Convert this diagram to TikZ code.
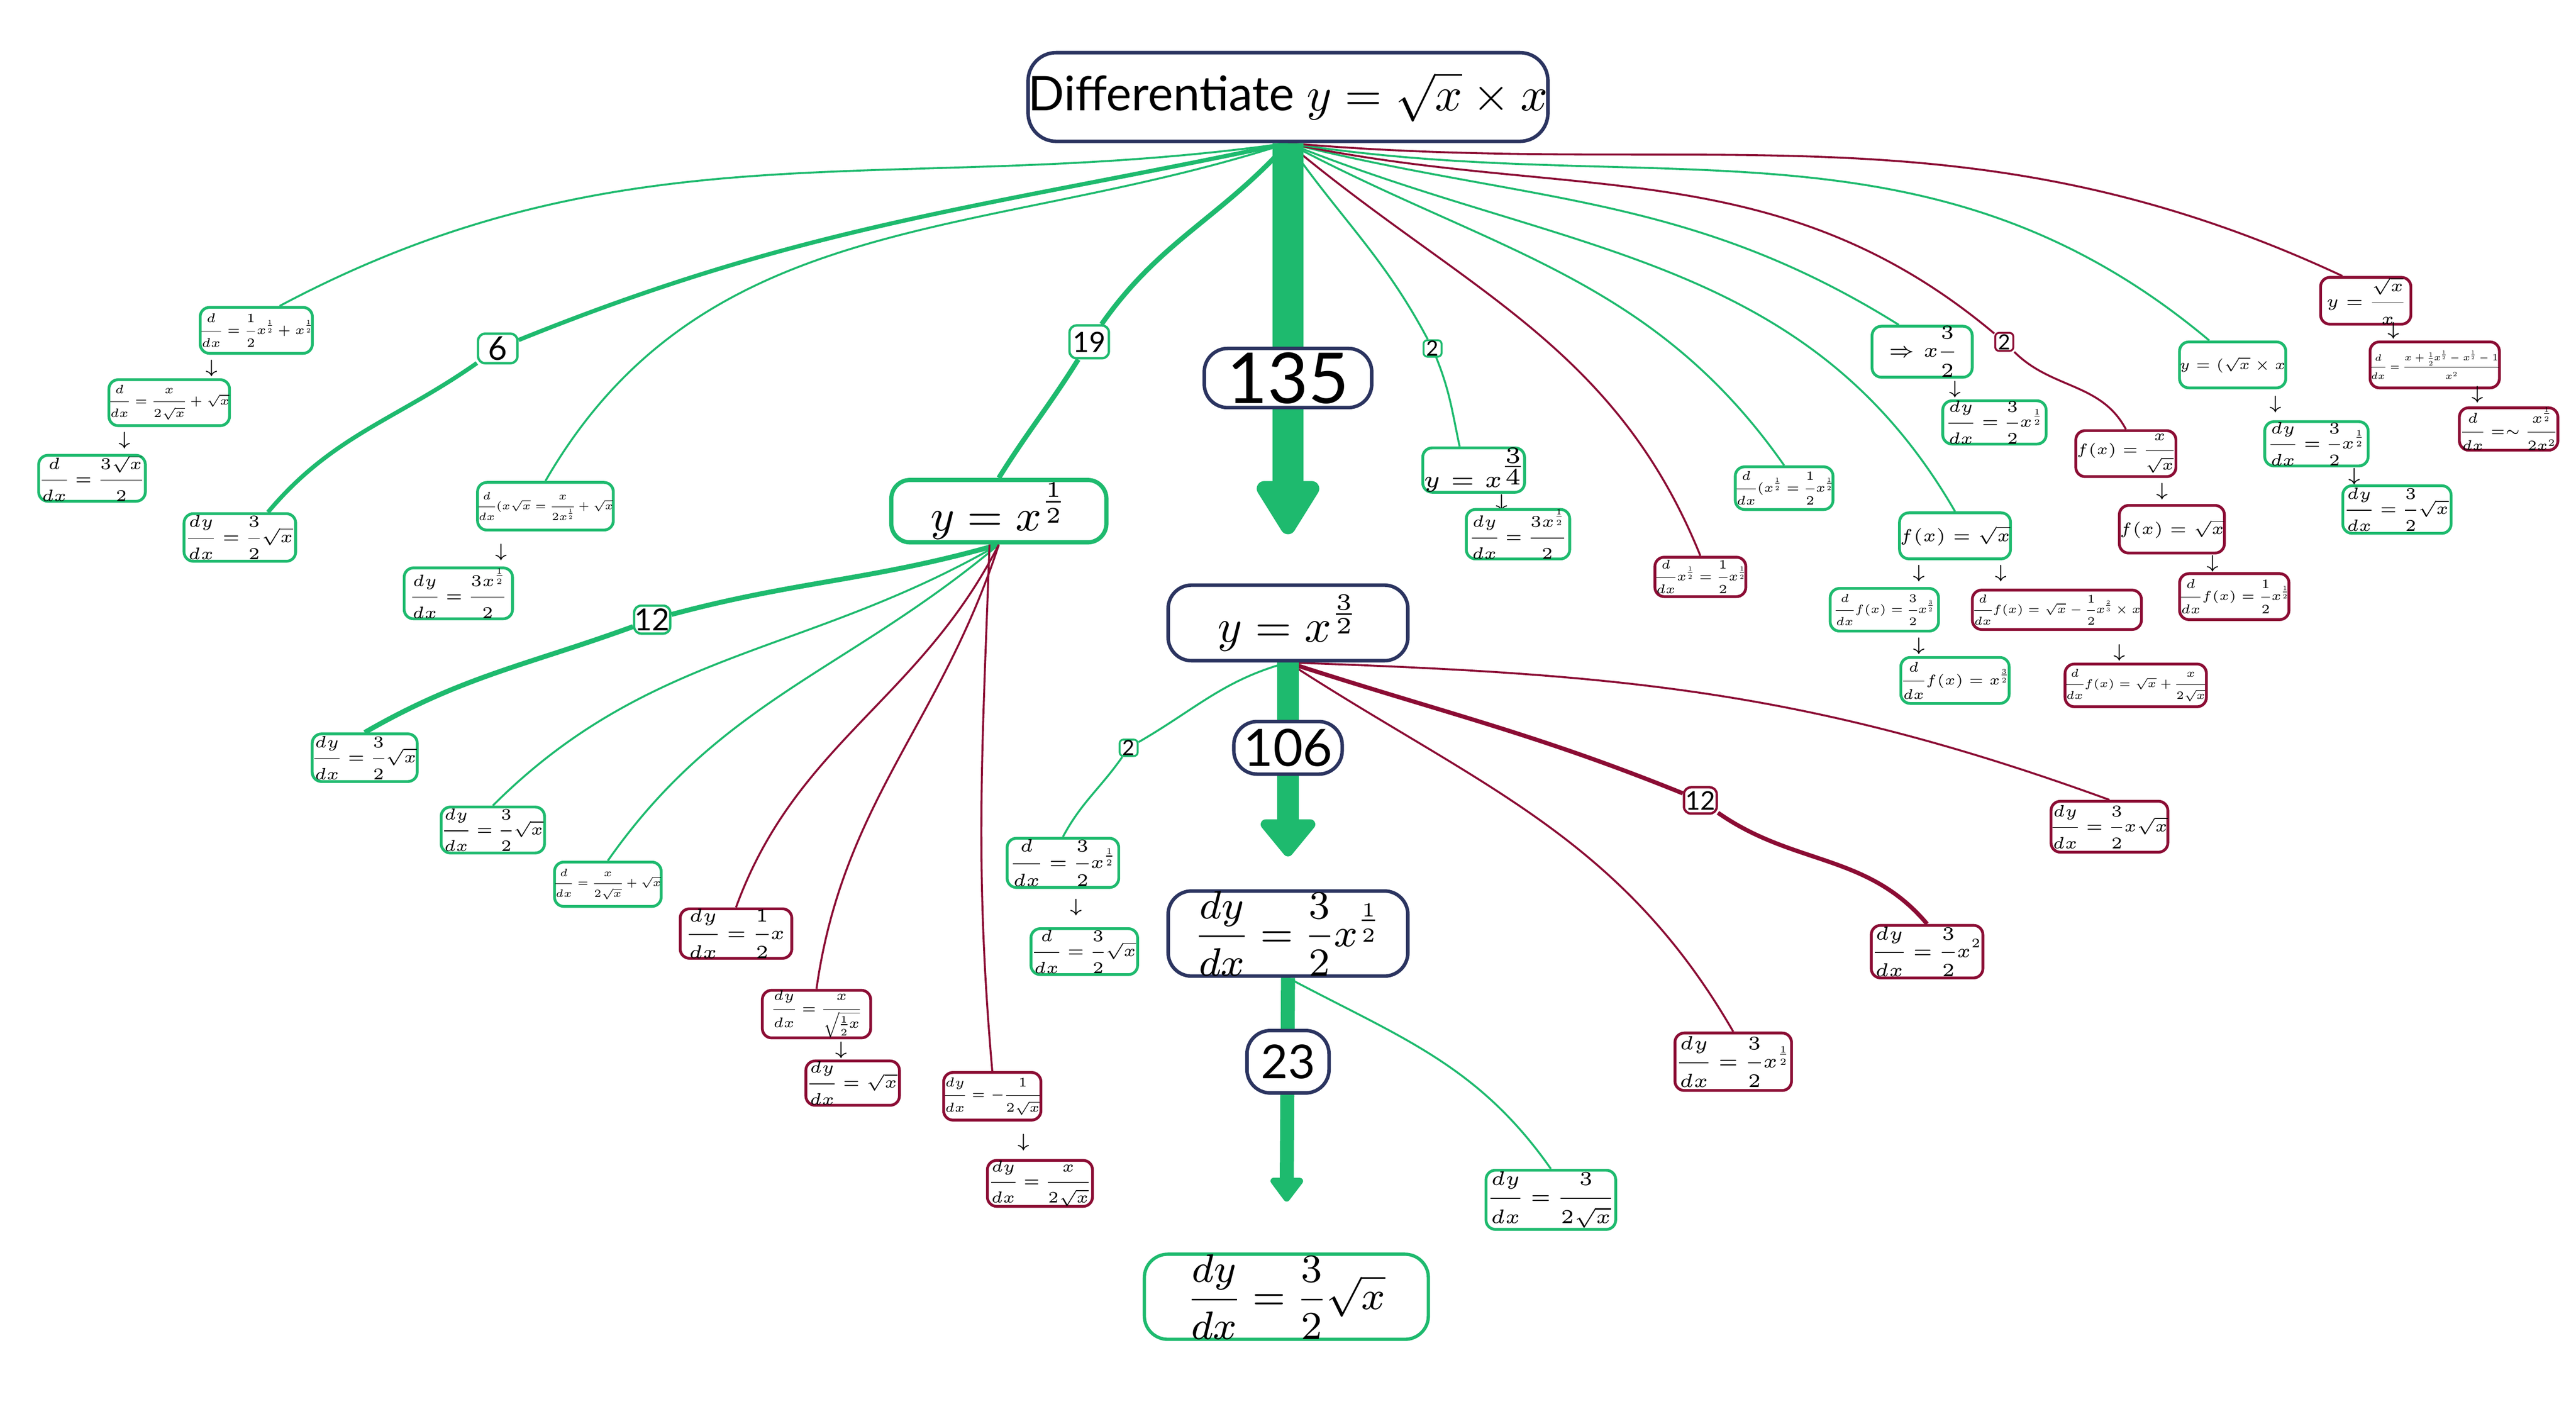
\RequirePackage{fix-cm}
\documentclass[tikz,border=0pt]{standalone}
\usepackage{amsmath}
\usepackage[no-math]{fontspec}
\setmainfont{Lato}
\usetikzlibrary{arrows.meta,backgrounds}
\definecolor{gr}{RGB}{30,186,110}
\definecolor{mr}{RGB}{139,12,52}
\definecolor{nv}{RGB}{43,52,96}
\newcommand\myfs[1]{\fontsize{#1}{#1}\selectfont\nulldelimiterspace=0.1em\relax\scriptspace=0.04em\relax}
\begin{document}
\begin{tikzpicture}[x=0.01234cm,y=0.01234cm,
  sz/.style 2 args={minimum width=#1*0.351pt,minimum height=#2*0.351pt},
  fs/.style={font=\myfs{#1}},
  bx/.style={draw,rounded corners=2pt,fill=white,line width=0.6pt,inner sep=0pt,align=center},
  g/.style={bx,draw=gr},
  r/.style={bx,draw=mr},
  n/.style={bx,draw=nv,line width=0.75pt,rounded corners=5pt},
  lb/.style={bx,rounded corners=1.5pt,line width=0.5pt},
  sl/.style={lb,rounded corners=0.8pt,line width=0.4pt,sz={11}{10},fs=4.5pt},
  dn/.style={inner sep=0pt,fs=4pt},
  eg/.style={draw=gr,line width=0.42pt},
  er/.style={draw=mr,line width=0.42pt},
  big/.style={draw=gr,line cap=butt}
]
\useasboundingbox (0,0) rectangle (1568,-854);
% main column
\node[n,sz={313}{54},fs=10.2pt,rounded corners=6pt] (root) at (784,-59) {Differentiate $y=\sqrt{x}\times x$};
\node[n,sz={102}{36},fs=15pt] (n135) at (784,-230) {135};
\node[n,sz={146}{46},fs=10pt] (m1) at (784,-379) {$\displaystyle y=x^{\frac{3}{2}}$};
\node[n,sz={66}{32},fs=11pt] (n106) at (784,-455) {106};
\node[n,sz={146}{47},fs=8.5pt] (m2) at (784,-568) {$\displaystyle \frac{dy}{dx}=\frac{3}{2}x^{\frac{1}{2}}$};
\node[n,sz={50}{38},fs=10pt] (n23) at (784,-646) {23};
\node[g,sz={173}{51},fs=8.5pt,line width=0.7pt,rounded corners=5pt] (fin) at (783,-789) {$\displaystyle \frac{dy}{dx}=\frac{3}{2}\sqrt{x}$};
\node[g,sz={131}{38},fs=9.5pt,line width=0.9pt,rounded corners=4pt] (half) at (608,-311) {$\displaystyle y=x^{\frac{1}{2}}$};
% labels
\node[lb,draw=gr,sz={24}{20},fs=6pt] (l19) at (663,-208) {19};
\node[lb,draw=gr,sz={24}{18},fs=7pt] (l6) at (303,-212) {6};
\node[lb,draw=gr,sz={22}{17},fs=6.5pt] (l12a) at (397,-377) {12};
\node[sl,draw=gr] (l2a) at (872,-212) {2};
\node[sl,draw=mr,sz={11}{11}] (l2b) at (1220,-208) {2};
\node[sl,draw=gr] (l2c) at (687,-455) {2};
\node[lb,draw=mr,sz={20}{16},fs=5.5pt] (l12b) at (1035,-487) {12};
% left group
\node[g,sz={66}{28},fs=2.7pt] (a1) at (156,-201) {$\displaystyle \frac{d}{dx}=\frac{1}{2}x^{\frac{1}{2}}+x^{\frac{1}{2}}$};
\node[dn] (da1) at (129,-224) {$\downarrow$};
\node[g,sz={67}{28},fs=2.6pt] (a2) at (103,-245) {$\displaystyle \frac{d}{dx}=\frac{x}{2\sqrt{x}}+\sqrt{x}$};
\node[dn] (da2) at (76,-268) {$\downarrow$};
\node[g,sz={65}{28},fs=3.5pt] (a3) at (56,-291) {$\displaystyle \frac{d}{dx}=\frac{3\sqrt{x}}{2}$};
\node[g,sz={68}{29},fs=3.6pt] (b) at (146,-327) {$\displaystyle \frac{dy}{dx}=\frac{3}{2}\sqrt{x}$};
\node[g,sz={77}{29},fs=2.3pt] (c1) at (332,-308) {$\displaystyle \frac{d}{dx}(x\sqrt{x}=\frac{x}{2x^{\frac{1}{2}}}+\sqrt{x}$};
\node[dn] (dc1) at (305,-336) {$\downarrow$};
\node[g,sz={66}{31},fs=3.5pt] (c2) at (279,-361) {$\displaystyle \frac{dy}{dx}=\frac{3x^{\frac{1}{2}}}{2}$};
% right of root
\node[g,sz={62}{27},fs=5pt] (d1) at (897,-286) {$\displaystyle y=x^{\frac{3}{4}}$};
\node[dn] (dd1) at (914,-306) {$\downarrow$};
\node[g,sz={63}{27},fs=3.5pt] (d2) at (924,-325) {$\displaystyle \frac{dy}{dx}=\frac{3x^{\frac{1}{2}}}{2}$};
\node[r,sz={54}{24},fs=2.7pt] (e) at (1035,-351) {$\displaystyle \frac{d}{dx}x^{\frac{1}{2}}=\frac{1}{2}x^{\frac{1}{2}}$};
\node[g,sz={59}{26},fs=2.7pt] (gg) at (1086,-297) {$\displaystyle \frac{d}{dx}(x^{\frac{1}{2}}=\frac{1}{2}x^{\frac{1}{2}}$};
\node[g,sz={65}{28},fs=3.7pt] (f) at (1190,-326) {$\displaystyle f(x)=\sqrt{x}$};
\node[dn] (df1) at (1168,-349) {$\downarrow$};
\node[dn] (df2) at (1218,-349) {$\downarrow$};
\node[g,sz={66}{26},fs=2.5pt] (f1) at (1147,-371) {$\displaystyle \frac{d}{dx}f(x)=\frac{3}{2}x^{\frac{3}{2}}$};
\node[dn] (df3) at (1168,-393) {$\downarrow$};
\node[g,sz={66}{28},fs=3pt] (f2) at (1190,-414) {$\displaystyle \frac{d}{dx}f(x)=x^{\frac{3}{2}}$};
\node[r,sz={103}{24},fs=2.45pt] (f3) at (1252,-371) {$\displaystyle \frac{d}{dx}f(x)=\sqrt{x}-\frac{1}{2}x^{\frac{2}{3}}\times x$};
\node[dn] (df4) at (1290,-397) {$\downarrow$};
\node[r,sz={86}{26},fs=2.4pt] (f4) at (1300,-417) {$\displaystyle \frac{d}{dx}f(x)=\sqrt{x}+\frac{x}{2\sqrt{x}}$};
\node[g,sz={61}{27},fs=4.2pt] (h1) at (1170,-214) {$\displaystyle \Rightarrow x\frac{3}{2}$};
\node[dn] (dh1) at (1190,-237) {$\downarrow$};
\node[g,sz={63}{26},fs=3.5pt] (h2) at (1214,-257) {$\displaystyle \frac{dy}{dx}=\frac{3}{2}x^{\frac{1}{2}}$};
\node[r,sz={61}{28},fs=3.2pt] (i1) at (1294,-276) {$\displaystyle f(x)=\frac{x}{\sqrt{x}}$};
\node[dn] (di1) at (1316,-299) {$\downarrow$};
\node[r,sz={64}{29},fs=3.5pt] (i2) at (1322,-322) {$\displaystyle f(x)=\sqrt{x}$};
\node[dn] (di2) at (1347,-343) {$\downarrow$};
\node[r,sz={66}{28},fs=2.75pt] (i3) at (1360,-363) {$\displaystyle \frac{d}{dx}f(x)=\frac{1}{2}x^{\frac{1}{2}}$};
\node[g,sz={64}{28},fs=3pt] (j1) at (1359,-222) {$\displaystyle y=(\sqrt{x}\times x$};
\node[dn] (dj1) at (1385,-246) {$\downarrow$};
\node[g,sz={63}{27},fs=3.5pt] (j2) at (1410,-270) {$\displaystyle \frac{dy}{dx}=\frac{3}{2}x^{\frac{1}{2}}$};
\node[dn] (dj2) at (1433,-290) {$\downarrow$};
\node[g,sz={66}{29},fs=3.5pt] (j3) at (1459,-310) {$\displaystyle \frac{dy}{dx}=\frac{3}{2}\sqrt{x}$};
\node[r,sz={55}{25},fs=3.6pt] (k1) at (1440,-183) {$\displaystyle y=\frac{\sqrt{x}}{x}$};
\node[dn] (dk1) at (1457,-201) {$\downarrow$};
\node[r,sz={78}{28},fs=2pt] (k2) at (1482,-222) {$\displaystyle \frac{d}{dx}=\frac{x+\frac{1}{2}x^{\frac{1}{2}}-x^{\frac{1}{2}}-1}{x^2}$};
\node[dn] (dk2) at (1508,-240) {$\downarrow$};
\node[r,sz={60}{25},fs=3pt] (k3) at (1527,-261) {$\displaystyle \frac{d}{dx}=\sim\frac{x^{\frac{1}{2}}}{2x^2}$};
% children of half
\node[g,sz={64}{29},fs=3.5pt] (p1) at (222,-461) {$\displaystyle \frac{dy}{dx}=\frac{3}{2}\sqrt{x}$};
\node[g,sz={63}{28},fs=3.4pt] (p2) at (300,-505) {$\displaystyle \frac{dy}{dx}=\frac{3}{2}\sqrt{x}$};
\node[g,sz={63}{27},fs=2.3pt] (p3) at (370,-538) {$\displaystyle \frac{d}{dx}=\frac{x}{2\sqrt{x}}+\sqrt{x}$};
\node[r,sz={68}{29},fs=4pt] (p4) at (448,-568) {$\displaystyle \frac{dy}{dx}=\frac{1}{2}x$};
\node[r,sz={66}{29},fs=3pt] (p5) at (497,-617) {$\displaystyle \frac{dy}{dx}=\frac{x}{\sqrt{\frac{1}{2}x}}$};
\node[dn] (dp5) at (512,-639) {$\downarrow$};
\node[r,sz={57}{27},fs=3.5pt] (p6) at (519,-659) {$\displaystyle \frac{dy}{dx}=\sqrt{x}$};
\node[r,sz={57}{29},fs=2.8pt] (p7) at (604,-667) {$\displaystyle \frac{dy}{dx}=-\frac{1}{2\sqrt{x}}$};
\node[dn] (dp7) at (623,-695) {$\downarrow$};
\node[r,sz={64}{28},fs=3.4pt] (p8) at (633,-720) {$\displaystyle \frac{dy}{dx}=\frac{x}{2\sqrt{x}}$};
% children of m1
\node[g,sz={68}{30},fs=3.8pt] (q1) at (647,-525) {$\displaystyle \frac{d}{dx}=\frac{3}{2}x^{\frac{1}{2}}$};
\node[dn] (dq1) at (655,-552) {$\downarrow$};
\node[g,sz={65}{28},fs=3.5pt] (q2) at (660,-579) {$\displaystyle \frac{d}{dx}=\frac{3}{2}\sqrt{x}$};
\node[r,sz={70}{31},fs=3.5pt] (r1) at (1284,-503) {$\displaystyle \frac{dy}{dx}=\frac{3}{2}x\sqrt{x}$};
\node[r,sz={68}{32},fs=4pt] (r2) at (1173,-579) {$\displaystyle \frac{dy}{dx}=\frac{3}{2}x^2$};
\node[r,sz={71}{35},fs=4.1pt] (r3) at (1055,-646) {$\displaystyle \frac{dy}{dx}=\frac{3}{2}x^{\frac{1}{2}}$};
\node[g,sz={79}{36},fs=4.2pt] (s) at (944,-730) {$\displaystyle \frac{dy}{dx}=\frac{3}{2\sqrt{x}}$};

\begin{scope}[on background layer]
% root fan
\draw[eg] (root.south) to[out=188,in=28] ([xshift=5]a1.north);
\draw[eg,line width=0.9pt] (root.south) to[out=192,in=22] (l6);
\draw[eg,line width=0.9pt] (l6) to[out=215,in=50] ([xshift=6]b.north);
\draw[eg] (root.south) to[out=198,in=60] (c1.north);
\draw[eg,line width=1.05pt] (root.south) to[out=228,in=55] (l19);
\draw[eg,line width=1.05pt] (l19) to[out=238,in=58] (half.north);
\draw[eg] (root.south) to[out=-55,in=118] (l2a);
\draw[eg] (l2a) to[out=-68,in=102] ([xshift=-3]d1.north);
\draw[er] (root.south) to[out=-40,in=112] (e.north);
\draw[eg] (root.south) to[out=-28,in=125] (gg.north);
\draw[eg] (root.south) to[out=-22,in=120] (f.north);
\draw[eg] (root.south) to[out=-14,in=148] ([xshift=-5]h1.north);
\draw[er] (root.south) to[out=-12,in=140] (l2b);
\draw[er] (l2b) to[out=-45,in=118] (i1.north);
\draw[eg] (root.south) to[out=-9,in=140] ([xshift=-5]j1.north);
\draw[er] (root.south) to[out=-5,in=155] ([xshift=-5]k1.north);
% half fan
\draw[eg,line width=1.05pt] (half.south) to[out=196,in=15] (l12a);
\draw[eg,line width=1.05pt] (l12a) to[out=200,in=30] (p1.north);
\draw[eg] (half.south) to[out=210,in=45] (p2.north);
\draw[eg] (half.south) to[out=220,in=55] (p3.north);
\draw[er] (half.south) to[out=243,in=70] (p4.north);
\draw[er] (half.south) to[out=252,in=82] (p5.north);
\draw[er] ([xshift=-2]half.south) to[out=268,in=95] (p7.north);
% m1 fan
\draw[eg] (m1.south) to[out=195,in=30] (l2c);
\draw[eg] (l2c) to[out=235,in=62] (q1.north);
\draw[er] (m1.south) to[out=-2,in=160] (r1.north);
\draw[er,line width=0.9pt] (m1.south) to[out=-18,in=158] (l12b);
\draw[er,line width=0.9pt] (l12b) to[out=-35,in=130] (r2.north);
\draw[er] (m1.south) to[out=-33,in=120] (r3.north);
\draw[eg] (m2.south) to[out=-28,in=125] (s.north);
% main arrows
\draw[big,line width=6.7pt,-{Triangle[width=15pt,length=13pt,round]},shorten >=10.5pt] (root.south) -- (m1.north);
\draw[big,line width=4.7pt,-{Triangle[width=13.5pt,length=8.6pt,round]},shorten >=7pt] (m1.south) -- (m2.north);
\draw[big,line width=3pt,-{Triangle[width=8pt,length=5.6pt,round]},shorten >=10.9pt] (m2.south) -- (fin.north);
\end{scope}
\end{tikzpicture}
\end{document}
